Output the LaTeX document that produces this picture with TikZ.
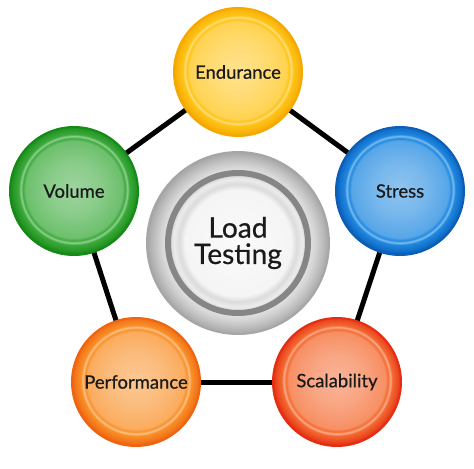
\documentclass[tikz,border=0pt]{standalone}
\usepackage{fontspec}
\setmainfont{Lato}
\newfontfamily\labelfont{Lato}[FakeBold=0.6]
\usetikzlibrary{positioning}

% glossy fill for the five balls, recomputed for each colour pair
% (25bp is the edge of the filled circle)
\pgfdeclareradialshading[ballmid,ballrim]{glossy}{\pgfpoint{0bp}{1bp}}{%
  color(0bp)=(ballmid!50!white); color(10bp)=(ballmid!60!white);
  color(19bp)=(ballmid!75!white); color(20bp)=(ballmid);
  color(20.8bp)=(ballmid!55!white); color(21.6bp)=(ballmid);
  color(24bp)=(ballmid!40!ballrim); color(25bp)=(ballrim); color(50bp)=(ballrim)}
\pgfdeclareradialshading{hubouter}{\pgfpoint{0bp}{0bp}}{%
  color(0bp)=(gray!20); color(19bp)=(gray!20); color(21bp)=(gray!32);
  color(23bp)=(gray!50); color(25bp)=(gray!70); color(50bp)=(gray!70)}
\pgfdeclareradialshading{hubinner}{\pgfpoint{0bp}{0bp}}{%
  color(0bp)=(white!96!gray); color(19bp)=(gray!8); color(21bp)=(gray!28);
  color(23bp)=(gray!15); color(25bp)=(gray!45); color(50bp)=(gray!45)}

\definecolor{endurcol}{HTML}{FFC418}
\definecolor{endurrim}{HTML}{F5A800}
\definecolor{stresscol}{HTML}{1E88E0}
\definecolor{stressrim}{HTML}{0B5EB8}
\definecolor{volcol}{HTML}{3CAA3C}
\definecolor{volrim}{HTML}{168A16}
\definecolor{perfcol}{HTML}{F99028}
\definecolor{perfrim}{HTML}{EE6410}
\definecolor{scalcol}{HTML}{F46A30}
\definecolor{scalrim}{HTML}{E42E14}
\definecolor{labelcol}{HTML}{1A1A1A}

\begin{document}
\begin{tikzpicture}[x=0.02cm, y=-0.02cm,
  ball/.style 2 args={circle, minimum size=2.56cm, inner sep=0pt,
    line width=0.04cm, draw=#2,
    /utils/exec={\colorlet{ballmid}{#1}\colorlet{ballrim}{#2}},
    shading=glossy,
    font=\labelfont\fontsize{10.5}{12}\selectfont, text=labelcol},
  hub/.style={circle, minimum size=3.64cm, inner sep=0pt,
    draw=gray!70, line width=0.04cm, shading=hubouter},
  hubring/.style={circle, minimum size=2.8cm, inner sep=0pt,
    draw=gray!95, line width=0.12cm, shading=hubinner},
  hubtext/.style={align=center, font=\labelfont\fontsize{16}{15}\selectfont,
    text=labelcol},
  link/.style={line width=0.1cm, black}]
\useasboundingbox (0,0) rectangle (474,468);

% the five kinds of load test
\node[ball={endurcol}{endurrim}] (endurance) at (238,72) {Endurance};
\node[ball={stresscol}{stressrim}] (stress) at (400,191) {Stress};
\node[ball={scalcol}{scalrim}] (scalability) at (337,382) {Scalability};
\node[ball={perfcol}{perfrim}] (performance) at (136,382) {Performance};
\node[ball={volcol}{volrim}] (volume) at (74,191) {Volume};

% pentagon
\draw[link] (endurance) -- (stress);
\draw[link] (stress) -- (scalability);
\draw[link] (scalability) -- (performance);
\draw[link] (performance) -- (volume);
\draw[link] (volume) -- (endurance);

% centre
\node[hub] (hub) at (238,243) {};
\node[hubring] (ring) at (hub) {};
\node[hubtext] (title) at (hub) {Load\\Testing};
\end{tikzpicture}
\end{document}
